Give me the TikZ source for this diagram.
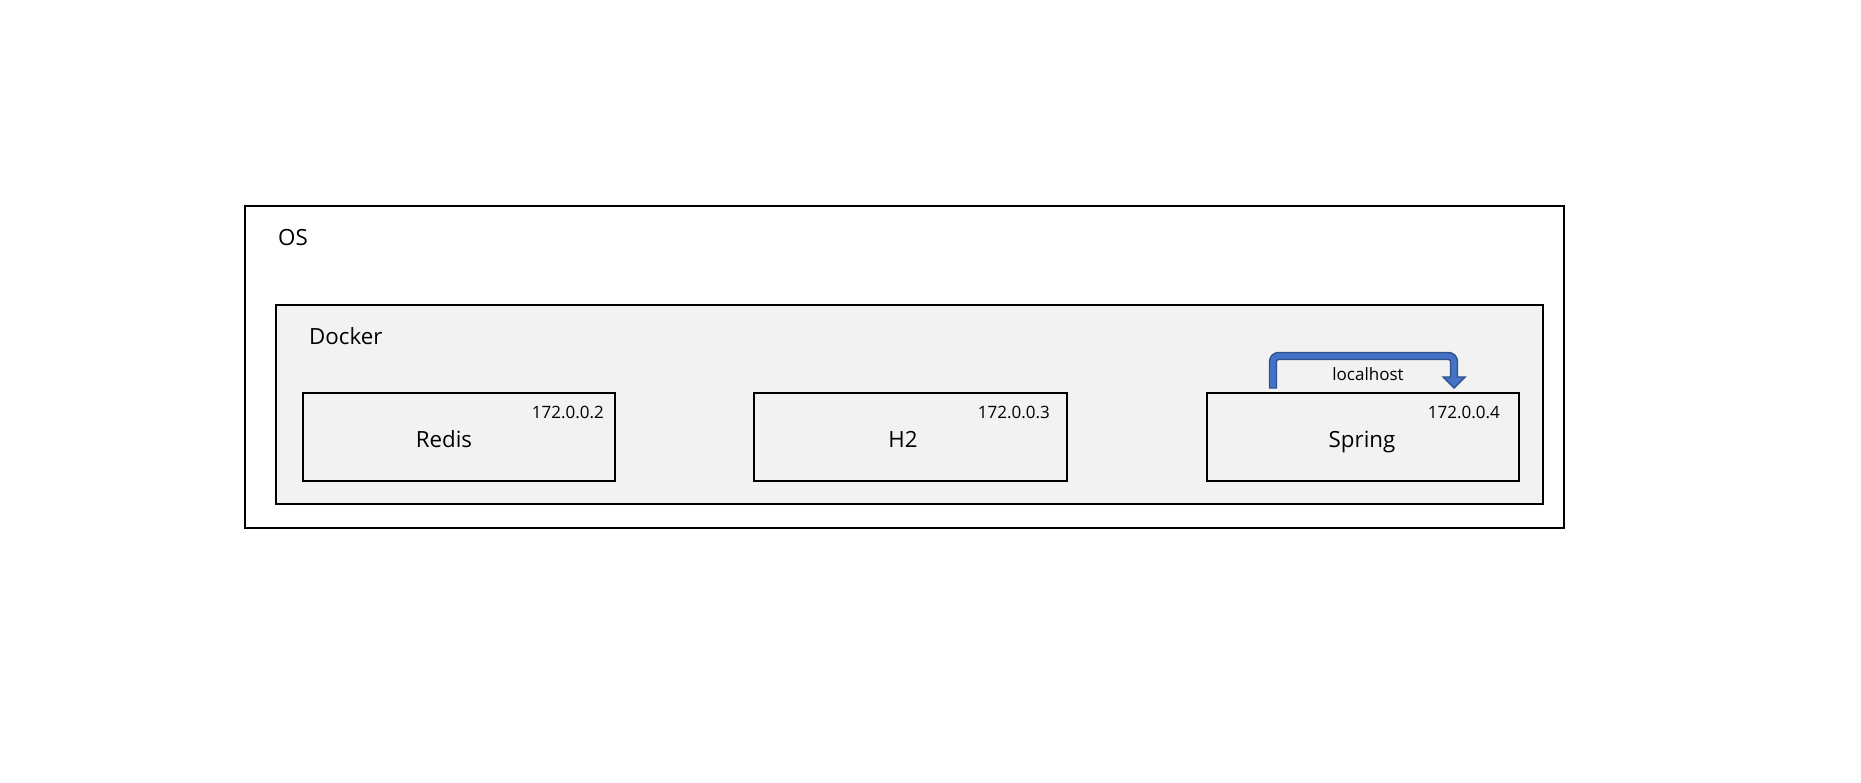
\documentclass[tikz,border=0pt]{standalone}
\usepackage{fontspec}
\setmainfont{Open Sans}
\definecolor{dockerfill}{HTML}{F2F2F2}
\definecolor{arrowfill}{HTML}{4472C4}
\definecolor{arrowline}{HTML}{2F528F}
\begin{document}
\begin{tikzpicture}[x=1pt,y=-1pt,
  box/.style={draw=black, line width=1.6pt, inner sep=0pt, outer sep=0pt},
  bigtxt/.style={inner sep=0pt, font=\fontsize{22.3}{26}\selectfont},
  iptxt/.style={inner sep=0pt, anchor=base east, font=\fontsize{17}{20}\selectfont},
  smalltxt/.style={inner sep=0pt, font=\fontsize{17}{20}\selectfont},
  blockarrow/.style={fill=arrowfill, draw=arrowline, line width=1.4pt, line join=miter}
]
\fill[white] (0,0) rectangle (1861,783);
\useasboundingbox (0,0) rectangle (1861,783);

% OS
\node[box, fill=white, minimum width=1319pt, minimum height=322pt] (os) at (904.5,367) {};
\node[bigtxt, anchor=base west] (oslbl) at (278,246) {OS};

% Docker
\node[box, fill=dockerfill, minimum width=1267pt, minimum height=199pt] (docker) at (909.5,404.5) {};
\node[bigtxt, anchor=base west] (dockerlbl) at (309,345) {Docker};

% Containers
\node[box, fill=dockerfill, minimum width=312pt, minimum height=88pt] (redis) at (459,437) {};
\node[bigtxt, anchor=base] (redislbl) at (444,447) {Redis};
\node[iptxt] (redisip) at (604,418) {172.0.0.2};

\node[box, fill=dockerfill, minimum width=313pt, minimum height=88pt] (h2) at (910.5,437) {};
\node[bigtxt, anchor=base] (h2lbl) at (903,447) {H2};
\node[iptxt] (h2ip) at (1050,418) {172.0.0.3};

\node[box, fill=dockerfill, minimum width=312pt, minimum height=88pt] (spring) at (1363,437) {};
\node[bigtxt, anchor=base] (springlbl) at (1362,447) {Spring};
\node[iptxt] (springip) at (1500,418) {172.0.0.4};

% localhost U-turn block arrow
\draw[blockarrow]
  (1269.5,388) -- (1269.5,361.5)
  .. controls (1269.5,356.5) and (1273.5,352.5) .. (1278.5,352.5)
  -- (1448.5,352.5)
  .. controls (1453.5,352.5) and (1457.5,356.5) .. (1457.5,361.5)
  -- (1457.5,377) -- (1465,377) -- (1454,388) -- (1443,377) -- (1450.5,377)
  -- (1450.5,361.5)
  .. controls (1450.5,360.4) and (1449.6,359.5) .. (1448.5,359.5)
  -- (1278.5,359.5)
  .. controls (1277.4,359.5) and (1276.5,360.4) .. (1276.5,361.5)
  -- (1276.5,388) -- cycle;
\node[smalltxt, anchor=base] (lh) at (1368,381) {localhost};
\end{tikzpicture}
\end{document}
